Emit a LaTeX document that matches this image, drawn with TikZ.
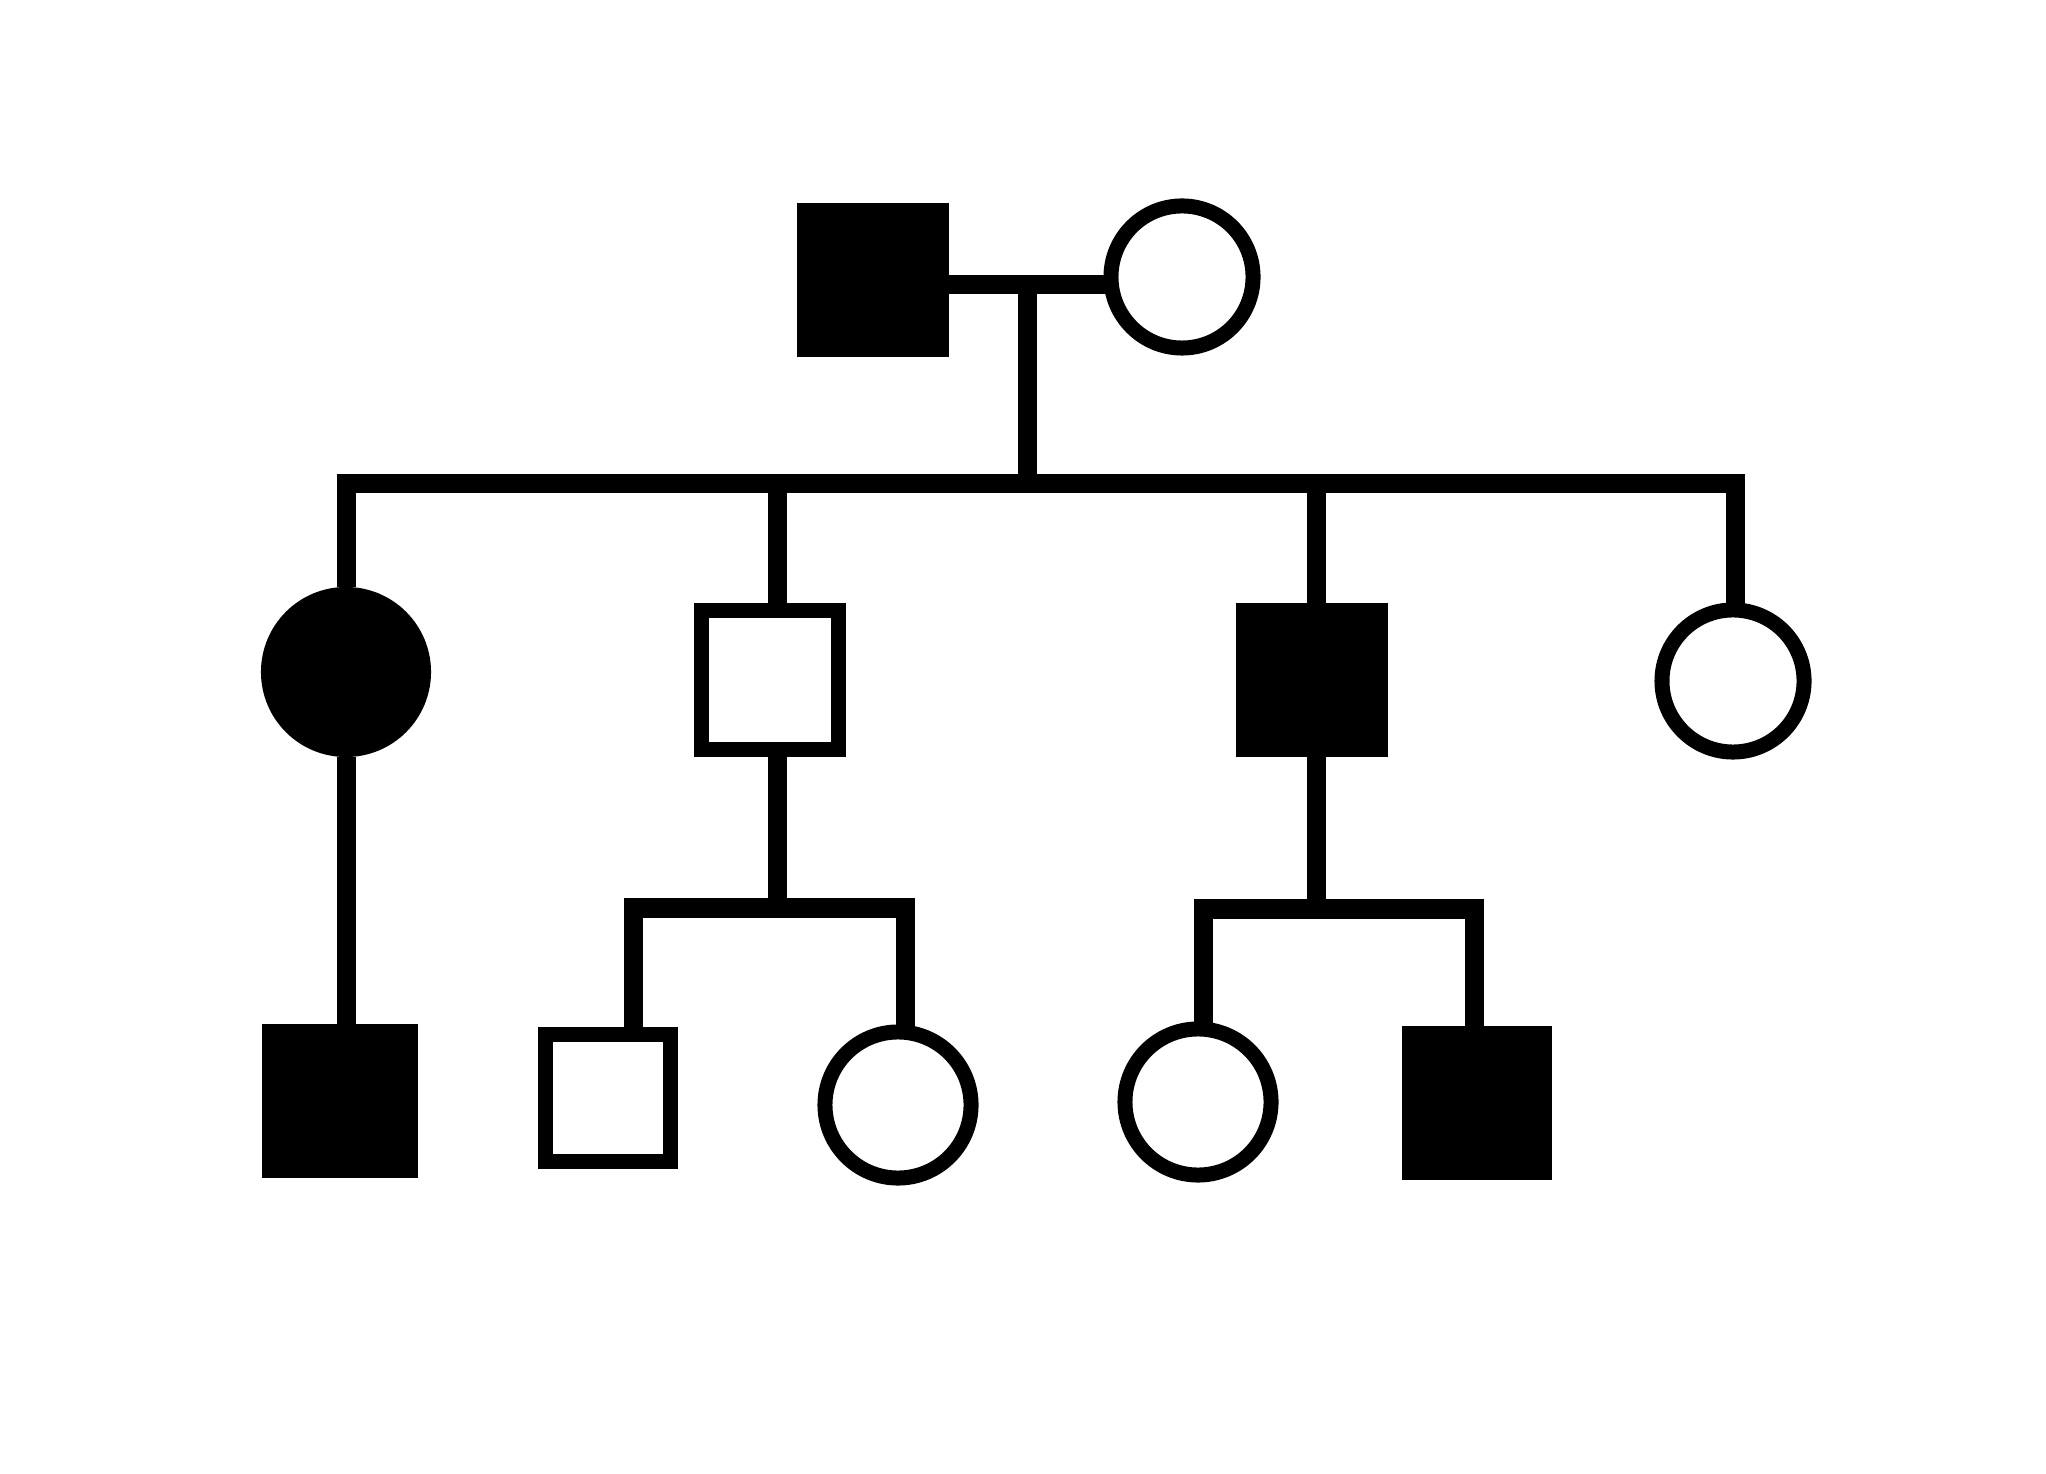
\documentclass[tikz,border=0pt]{standalone}
\usetikzlibrary{backgrounds}
\begin{document}
\begin{tikzpicture}[x=0.01cm,y=-0.01cm,
  male/.style={draw=black,line width=0.15cm,rectangle,minimum width=1.36cm,minimum height=1.38cm,inner sep=0pt},
  female/.style={draw=black,line width=0.15cm,circle,minimum size=1.42cm,inner sep=0pt},
  aff/.style={fill=black},
  unaff/.style={fill=white},
  link/.style={draw=black,line width=0.19cm}]
% coordinates of the connecting lines
\coordinate (mar) at (1027,285);
\coordinate (s1) at (1027,484);
\coordinate (s1l) at (346,484);
\coordinate (s1r) at (1735,484);
\coordinate (d2) at (777,484);
\coordinate (d3) at (1316,484);
\coordinate (s2) at (777,908);
\coordinate (s2l) at (633,908);
\coordinate (s2r) at (905,908);
\coordinate (s3) at (1316,909);
\coordinate (s3l) at (1203,909);
\coordinate (s3r) at (1474,909);
% generation I
\node[male,aff] (f) at (873,280) {};
\node[female,unaff] (m) at (1182,277) {};
% generation II
\node[female,aff,minimum size=1.55cm] (c1) at (346,672) {};
\node[male,unaff] (c2) at (770,680) {};
\node[male,aff] (c3) at (1312,680) {};
\node[female,unaff] (c4) at (1733,681) {};
% generation III
\node[male,aff,minimum width=1.40cm,minimum height=1.38cm] (g1) at (340,1101) {};
\node[male,unaff,minimum width=1.24cm,minimum height=1.26cm] (g2) at (608,1098) {};
\node[female,unaff,minimum size=1.46cm] (g3) at (898,1105) {};
\node[female,unaff,minimum size=1.46cm] (g4) at (1198,1102) {};
\node[male,aff,minimum width=1.34cm,minimum height=1.38cm] (g5) at (1477,1103) {};
% connectors, behind the symbols
\begin{scope}[on background layer]
\fill[white] (0,0) rectangle (2046,1474);
\draw[link] (f |- mar) -- (m |- mar);
\draw[link] (mar) -- (s1);
\draw[link] ([xshift=-0.095cm]s1l) -- ([xshift=0.095cm]s1r);
\draw[link] (s1l) -- (c1);
\draw[link] (d2) -- (d2 |- c2);
\draw[link] (d3) -- (d3 |- c3);
\draw[link] (s1r) -- (s1r |- c4);
\draw[link] (c1) -- (c1 |- g1);
\draw[link] (c2 -| s2) -- (s2);
\draw[link] ([xshift=-0.095cm]s2l) -- ([xshift=0.095cm]s2r);
\draw[link] (s2l) -- (s2l |- g2);
\draw[link] (s2r) -- (s2r |- g3);
\draw[link] (c3 -| s3) -- (s3);
\draw[link] ([xshift=-0.095cm]s3l) -- ([xshift=0.095cm]s3r);
\draw[link] (s3l) -- (s3l |- g4);
\draw[link] (s3r) -- (s3r |- g5);
\end{scope}
\useasboundingbox (0,0) rectangle (2046,1474);
\end{tikzpicture}
\end{document}
